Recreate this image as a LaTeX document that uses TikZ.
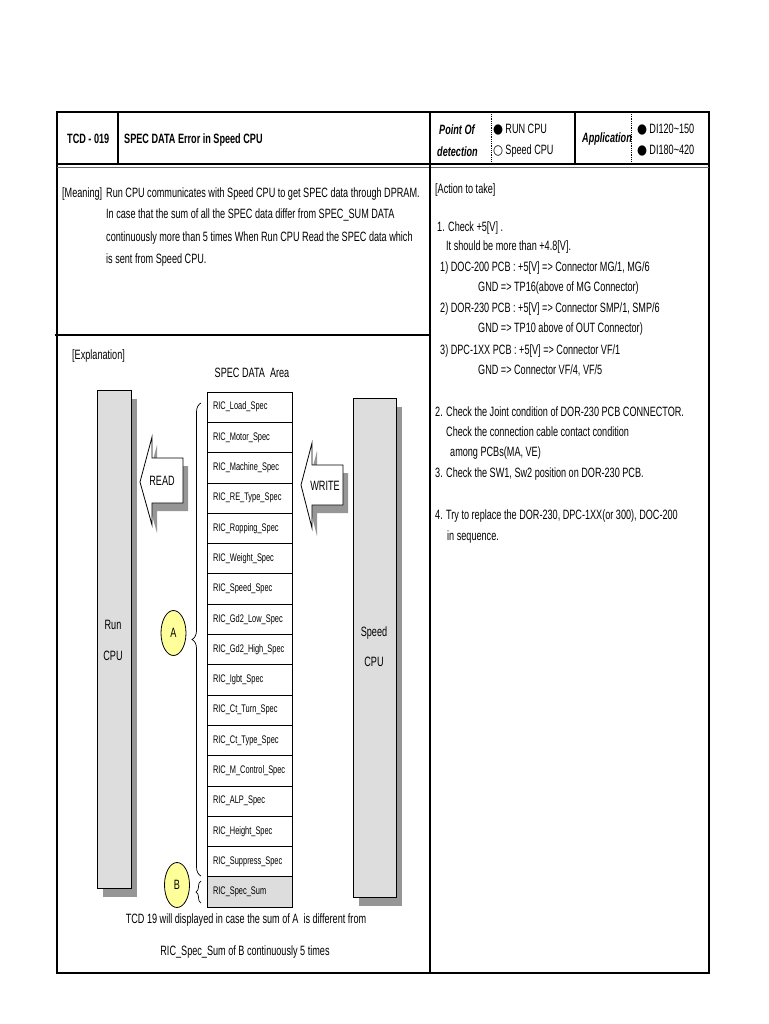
\documentclass[tikz,border=0pt]{standalone}
\usepackage{fontspec}
\setmainfont{Liberation Sans}[FakeStretch=0.675]
\newfontfamily\symfont{DejaVu Sans}[FakeStretch=0.85]
\usetikzlibrary{shapes.geometric,decorations.pathreplacing,shadows}
\definecolor{bargray}{RGB}{221,221,221}
\definecolor{shadowgray}{RGB}{150,150,150}
\definecolor{paleyellow}{RGB}{255,255,153}
\begin{document}
\begin{tikzpicture}[x=1pt,y=-1pt,
  tx/.style={anchor=base west, inner sep=0pt, yshift=-4.8pt, font=\fontsize{13.5}{15}\selectfont},
  txc/.style={anchor=base, inner sep=0pt, yshift=-4.8pt, font=\fontsize{13.5}{15}\selectfont},
  hb/.style={tx, font=\fontsize{13.5}{15}\selectfont\bfseries},
  hbi/.style={tx, font=\fontsize{13.5}{15}\selectfont\bfseries\itshape},
  specbox/.style={draw, line width=0.8pt, minimum height=30.3pt, text width=73pt, inner xsep=6pt, inner ysep=0pt, align=left, font=\fontsize{11}{12}\selectfont},
  cpubar/.style={draw, line width=0.8pt, fill=bargray, inner sep=0pt, drop shadow={shadow xshift=6pt, shadow yshift=-9pt, fill=shadowgray, opacity=1}},
  marker/.style={draw, line width=0.8pt, ellipse, fill=paleyellow, inner sep=0pt, minimum width=25pt, minimum height=45pt, font=\fontsize{13.5}{15}\selectfont},
  blockarrow/.style={draw, line width=0.8pt, fill=white},
  arrowshadow/.style={fill=shadowgray},
  bracestyle/.style={draw, line width=0.7pt, decorate}
]
\fill[white] (0,0) rectangle (768,1024);
\useasboundingbox (0,0) rectangle (768,1024);

% ---- frame ----
\draw[line width=2.5pt] (57,112) rectangle (709,973);
\draw[line width=1.5pt] (57,164) -- (709,164);
\draw[line width=1pt, black!60] (57,168) -- (709,168);
\draw[line width=1.5pt] (118,112) -- (118,164);
\draw[line width=2pt] (430,112) -- (430,973);
\draw[line width=1.5pt] (575,112) -- (575,164);
\draw[densely dotted, line width=0.8pt] (491,114) -- (491,163);
\draw[densely dotted, line width=0.8pt] (631,114) -- (631,163);
\draw[line width=1.5pt] (55,335) -- (430,335);

% ---- header ----
\node[hb] (tcd) at (67,139) {TCD - 019};
\node[hb] (title) at (124,139) {SPEC DATA Error in Speed CPU};
\node[hbi] (pt1) at (439,130) {Point Of};
\node[hbi] (pt2) at (437,152) {detection};
\node[tx] (run1) at (493,129) {{\symfont ●}\,RUN CPU};
\node[tx] (run2) at (493,150) {{\symfont ○}\,Speed CPU};
\node[hbi] (app) at (582,138) {Application};
\node[tx] (di1) at (637,129) {{\symfont ●}\,DI120\textasciitilde150};
\node[tx] (di2) at (637,150) {{\symfont ●}\,DI180\textasciitilde420};

% ---- meaning ----
\node[tx] (m0) at (62,193) {[Meaning]};
\node[tx] (m1) at (106,193) {Run CPU communicates with Speed CPU to get SPEC data through DPRAM.};
\node[tx] (m2) at (106,214) {In case that the sum of all the SPEC data differ from SPEC\_SUM DATA};
\node[tx] (m3) at (106,237) {continuously more than 5 times When Run CPU Read the SPEC data which};
\node[tx] (m4) at (106,259) {is sent from Speed CPU.};

% ---- action ----
\node[tx] (a0) at (435,189) {[Action to take]};
\node[tx] (a1) at (437,227) {1. Check +5[V] .};
\node[tx] (a2) at (446,246) {It should be more than +4.8[V].};
\node[tx] (a3) at (440,267) {1) DOC-200 PCB : +5[V] => Connector MG/1, MG/6};
\node[tx] (a4) at (478,287) {GND => TP16(above of MG Connector)};
\node[tx] (a5) at (440,308) {2) DOR-230 PCB : +5[V] => Connector SMP/1, SMP/6};
\node[tx] (a6) at (478,328) {GND => TP10 above of OUT Connector)};
\node[tx] (a7) at (440,350) {3) DPC-1XX PCB : +5[V] => Connector VF/1};
\node[tx] (a8) at (478,370) {GND => Connector VF/4, VF/5};
\node[tx] (a9) at (435,412) {2. Check the Joint condition of DOR-230 PCB CONNECTOR.};
\node[tx] (a10) at (446,432) {Check the connection cable contact condition};
\node[tx] (a11) at (450,452) {among PCBs(MA, VE)};
\node[tx] (a12) at (435,473) {3. Check the SW1, Sw2 position on DOR-230 PCB.};
\node[tx] (a13) at (435,515) {4. Try to replace the DOR-230, DPC-1XX(or 300), DOC-200};
\node[tx] (a14) at (447,536) {in sequence.};

% ---- explanation ----
\node[tx] (ex) at (72,355) {[Explanation]};
\node[txc] (area) at (252,373) {SPEC DATA\ \ Area};

% CPU bars
\node[cpubar, minimum width=34pt, minimum height=498pt] (runbar) at (114,639) {};
\node[cpubar, minimum width=43pt, minimum height=499pt] (spdbar) at (374.5,647.5) {};
\node[txc] (runt1) at (113,625) {Run};
\node[txc] (runt2) at (113,656) {CPU};
\node[txc] (spdt1) at (374,632) {Speed};
\node[txc] (spdt2) at (374,662) {CPU};

% READ arrow
\begin{scope}[shift={(5,8)}]
\fill[arrowshadow] (140,482) -- (152,437) -- (152,458) -- (183,458) -- (183,503) -- (152,503) -- (152,525) -- cycle;
\end{scope}
\draw[blockarrow] (140,482) -- (152,437) -- (152,458) -- (183,458) -- (183,503) -- (152,503) -- (152,525) -- cycle;
\node[txc] (read) at (162,481) {READ};

% WRITE arrow
\begin{scope}[shift={(5,8)}]
\fill[arrowshadow] (301,485) -- (312,443) -- (312,465) -- (343,465) -- (343,505) -- (312,505) -- (312,528) -- cycle;
\end{scope}
\draw[blockarrow] (301,485) -- (312,443) -- (312,465) -- (343,465) -- (343,505) -- (312,505) -- (312,528) -- cycle;
\node[txc] (write) at (325,486) {WRITE};

% spec boxes
\foreach \t [count=\i] in {Load,Motor,Machine,RE\_Type,Ropping,Weight,Speed,Gd2\_Low,Gd2\_High,Igbt,Ct\_Turn,Ct\_Type,M\_Control,ALP,Height,Suppress}{
  \node[specbox] (s\i) at (249.5,{392+30.3*(\i-0.5)}) {RIC\_\t\_Spec};
}
\node[specbox, fill=bargray] (s17) at (249.5,{392+30.3*16.5}) {RIC\_Spec\_Sum};

% braces
\coordinate (bA1) at (201,876);
\coordinate (bA2) at (201,403);
\draw[bracestyle, decoration={brace, amplitude=9pt}] (bA1) -- (bA2);
\coordinate (bB1) at (201,903);
\coordinate (bB2) at (201,881);
\draw[bracestyle, decoration={brace, amplitude=5pt}] (bB1) -- (bB2);

% markers
\node[marker] (A) at (173.5,633) {A};
\node[marker] (B) at (177,885) {B};

% bottom text
\node[txc] (n1) at (246,919) {TCD 19 will displayed in case the sum of A\ \ is different from};
\node[txc] (n2) at (245,951) {RIC\_Spec\_Sum of B continuously 5 times};
\end{tikzpicture}
\end{document}
